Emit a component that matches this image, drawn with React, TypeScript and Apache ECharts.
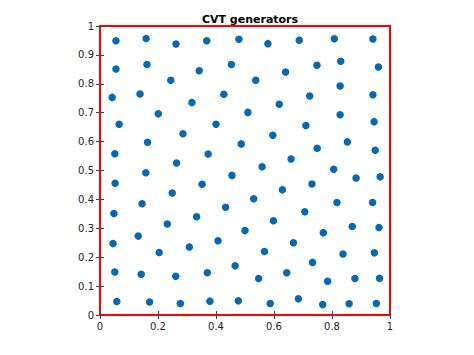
import React, { useEffect, useRef } from "react";
import * as echarts from "echarts";

const titleText = "CVT generators";
const xTicks = [0, 0.2, 0.4, 0.6, 0.8, 1];
const yTicks = [0, 0.1, 0.2, 0.3, 0.4, 0.5, 0.6, 0.7, 0.8, 0.9, 1];

const genX = [
  0.055, 0.159, 0.262, 0.368, 0.479, 0.579, 0.687, 0.808, 0.941,
  0.055, 0.162, 0.342, 0.453, 0.640, 0.748, 0.830, 0.960,
  0.244, 0.537, 0.828,
  0.042, 0.138, 0.317, 0.427, 0.723, 0.941, 0.618,
  0.510, 0.201, 0.828, 0.945, 0.710, 0.066, 0.400,
  0.286, 0.164, 0.487, 0.051, 0.373, 0.264, 0.158, 0.455, 0.052, 0.352, 0.249, 0.145, 0.433, 0.048, 0.333, 0.232, 0.500,
  0.596, 0.853, 0.749, 0.949, 0.659, 0.559, 0.806, 0.883, 0.966, 0.731, 0.629, 0.530, 0.817, 0.940, 0.706, 0.598, 0.870, 0.962,
  0.045, 0.132, 0.308, 0.407, 0.204, 0.051, 0.142, 0.261, 0.370, 0.466, 0.058, 0.171, 0.277, 0.379, 0.477,
  0.770, 0.667, 0.567, 0.733, 0.838, 0.946, 0.547, 0.644, 0.785, 0.879, 0.964, 0.587, 0.684, 0.768, 0.859, 0.953,
];
const genY = [
  0.949, 0.957, 0.938, 0.949, 0.954, 0.939, 0.951, 0.956, 0.955,
  0.851, 0.867, 0.845, 0.867, 0.841, 0.864, 0.878, 0.858,
  0.812, 0.812, 0.792,
  0.753, 0.765, 0.735, 0.764, 0.758, 0.762, 0.729,
  0.701, 0.696, 0.693, 0.669, 0.656, 0.660, 0.660,
  0.627, 0.598, 0.592, 0.558, 0.557, 0.526, 0.492, 0.483, 0.456, 0.452, 0.422, 0.385, 0.373, 0.351, 0.340, 0.315, 0.292,
  0.622, 0.599, 0.577, 0.570, 0.540, 0.513, 0.504, 0.474, 0.478, 0.453, 0.433, 0.402, 0.389, 0.389, 0.357, 0.326, 0.306, 0.303,
  0.247, 0.273, 0.235, 0.257, 0.216, 0.149, 0.141, 0.134, 0.146, 0.170, 0.047, 0.045, 0.040, 0.048, 0.049,
  0.285, 0.250, 0.220, 0.182, 0.211, 0.215, 0.126, 0.146, 0.117, 0.126, 0.127, 0.040, 0.056, 0.036, 0.039, 0.040,
];

export default function App() {
  const ref = useRef<HTMLDivElement>(null);
  useEffect(() => {
    if (!ref.current) return;
    const chart = echarts.init(ref.current, undefined, { renderer: "svg" });
    const data = genX.map((x, i) => [x, genY[i]]);
    const font = "DejaVu Sans, sans-serif";
    const tickStyle = { show: true, inside: true, length: 4, lineStyle: { color: "#444", width: 1 } };
    const baseAxis = (pos: string, ticks: number[], showLabels: boolean) => ({
      type: "value",
      position: pos,
      min: 0,
      max: 1,
      interval: ticks[1] - ticks[0],
      axisLine: { show: false },
      axisTick: tickStyle,
      splitLine: { show: false },
      axisLabel: {
        show: showLabels,
        color: "#262626",
        fontSize: 10,
        fontFamily: font,
        margin: 6,
        formatter: (v: number) => String(Math.round(v * 10) / 10),
      },
    });
    chart.setOption({
      animation: false,
      backgroundColor: "#fff",
      title: {
        text: titleText,
        left: 245,
        textAlign: "center",
        top: 9,
        textStyle: { fontSize: 11, fontWeight: "bold", color: "#000", fontFamily: font },
      },
      grid: {
        left: 100,
        right: 84,
        top: 26,
        bottom: 40,
        show: true,
        borderColor: "#ff0000",
        borderWidth: 2,
        backgroundColor: "#fff",
      },
      xAxis: [baseAxis("bottom", xTicks, true), baseAxis("top", xTicks, false)],
      yAxis: [baseAxis("left", yTicks, true), baseAxis("right", yTicks, false)],
      series: [
        {
          type: "scatter",
          data,
          symbol: "circle",
          symbolSize: 7.5,
          itemStyle: { color: "#0868B2", opacity: 1 },
        },
      ],
    });
    return () => chart.dispose();
  }, []);
  return <div ref={ref} style={{ width: 474, height: 355, position: "absolute", left: 0, top: 0 }} />;
}
